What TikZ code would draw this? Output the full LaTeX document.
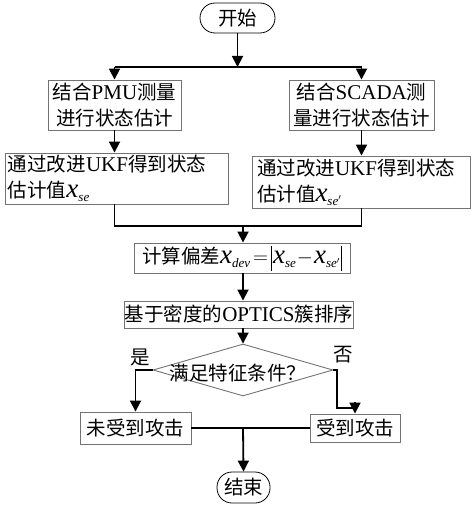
\documentclass[tikz,border=0pt]{standalone}
\usepackage{amsmath}
\usepackage{fontspec}
\setmainfont{Liberation Serif}
\newfontfamily\cjk{Noto Sans CJK SC}
\newcommand{\zh}[1]{{\cjk\fontsize{19.5}{26}\selectfont #1}}
\newcommand{\xs}[1]{{\fontsize{27}{26}\selectfont\itshape x}\raisebox{-4pt}{\fontsize{13}{13}\selectfont\itshape #1}}
\newcommand{\absbar}{\rule[-7pt]{1pt}{25pt}}
\usetikzlibrary{arrows.meta,shapes.geometric}
\begin{document}
\begin{tikzpicture}[x=1pt,y=-1pt,
  every node/.style={font=\fontsize{21}{26}\selectfont, inner sep=2pt},
  box/.style={draw=black!55, line width=0.9pt, inner sep=0pt, align=center},
  term/.style={draw=black, line width=0.8pt, rounded corners=15pt, inner sep=0pt},
  conn/.style={line width=1.8pt},
  arr/.style={conn, -{Triangle[length=11pt,width=11pt]}}]
\useasboundingbox (0,0) rectangle (474,508);
% nodes
\node[term, minimum width=75pt, minimum height=30pt] (start) at (237.5,18) {\zh{开始}};
\node[box, minimum width=133pt, minimum height=50pt] (b1L) at (114.5,105)
  {\zh{结合}PMU\zh{测量}\\\zh{进行状态估计}};
\node[box, minimum width=145pt, minimum height=50pt] (b1R) at (361.5,105)
  {\zh{结合}SCADA\zh{测}\\\zh{量进行状态估计}};
\node[box, minimum width=223pt, minimum height=51pt, align=left, text width=217pt] (b2L) at (116.5,178.5)
  {\zh{通过改进}UKF\zh{得到状态}\\\zh{估计值}\xs{se}};
\node[box, minimum width=218pt, minimum height=52pt, align=left, text width=208pt] (b2R) at (361,182)
  {\zh{通过改进}UKF\zh{得到状态}\\\zh{估计值}\xs{se$'$}};
\node[box, minimum width=216pt, minimum height=30pt] (b3) at (242,258)
  {\zh{计算偏差}\xs{dev}\kern3pt$=$\kern3pt\absbar\kern1pt\xs{se}\kern1pt$-$\kern1pt\xs{se$'$}\kern1pt\absbar};
\node[box, minimum width=228pt, minimum height=27pt] (b4) at (239,314.5)
  {\zh{基于密度的}OPTICS\zh{簇排序}};
\node[shape=diamond, draw=black!55, line width=0.9pt, minimum width=180pt, minimum height=52pt, inner sep=0pt] (dia) at (243,370) {};
\node (diatext) at (238,373) {\zh{满足特征条件？}};
\node (yes) at (140,357) {\zh{是}};
\node (no) at (343,355) {\zh{否}};
\node[box, minimum width=111pt, minimum height=32pt] (b5) at (135.5,428) {\zh{未受到攻击}};
\node[box, minimum width=90pt, minimum height=28pt] (b6) at (355,428) {\zh{受到攻击}};
\node[term, minimum width=53pt, minimum height=31pt] (end) at (243.5,487.5) {\zh{结束}};
% coordinates
\coordinate (j1) at (237.5,67);
\coordinate (j2) at (243,226);
\coordinate (j3) at (243,428);
\coordinate (r1) at (337,370);
\coordinate (r2) at (337,408);
\coordinate (r3) at (355,402);
% connectors
\draw[arr] (start.south) -- (j1);
\draw[conn] (b1L.north |- j1) -- (b1R.north |- j1);
\draw[arr] (b1L.north |- j1) -- (b1L.north);
\draw[arr] (b1R.north |- j1) -- (b1R.north);
\draw[arr] (b1L.south) -- (b1L.south |- b2L.north);
\draw[arr] (b1R.south) -- (b1R.south |- b2R.north);
\draw[conn] (b1L.south |- b2L.south) -- (b1L.south |- j2) -- (b1R.south |- j2) -- (b1R.south |- b2R.south);
\draw[arr] (j2) -- (j2 |- b3.north);
\draw[arr] (j2 |- b3.south) -- (j2 |- b4.north);
\draw[arr] (j2 |- b4.south) -- (dia.north);
\draw[arr] (dia.west) -| (b5.north);
\draw[conn] (dia.east) -- (r1) -- (r2) -- (r2 -| b6.north);
\draw[arr] (r3) -- (b6.north);
\draw[conn] (b5.east) -- (b6.west);
\draw[arr] (j3) -- (end.north);
\end{tikzpicture}
\end{document}
